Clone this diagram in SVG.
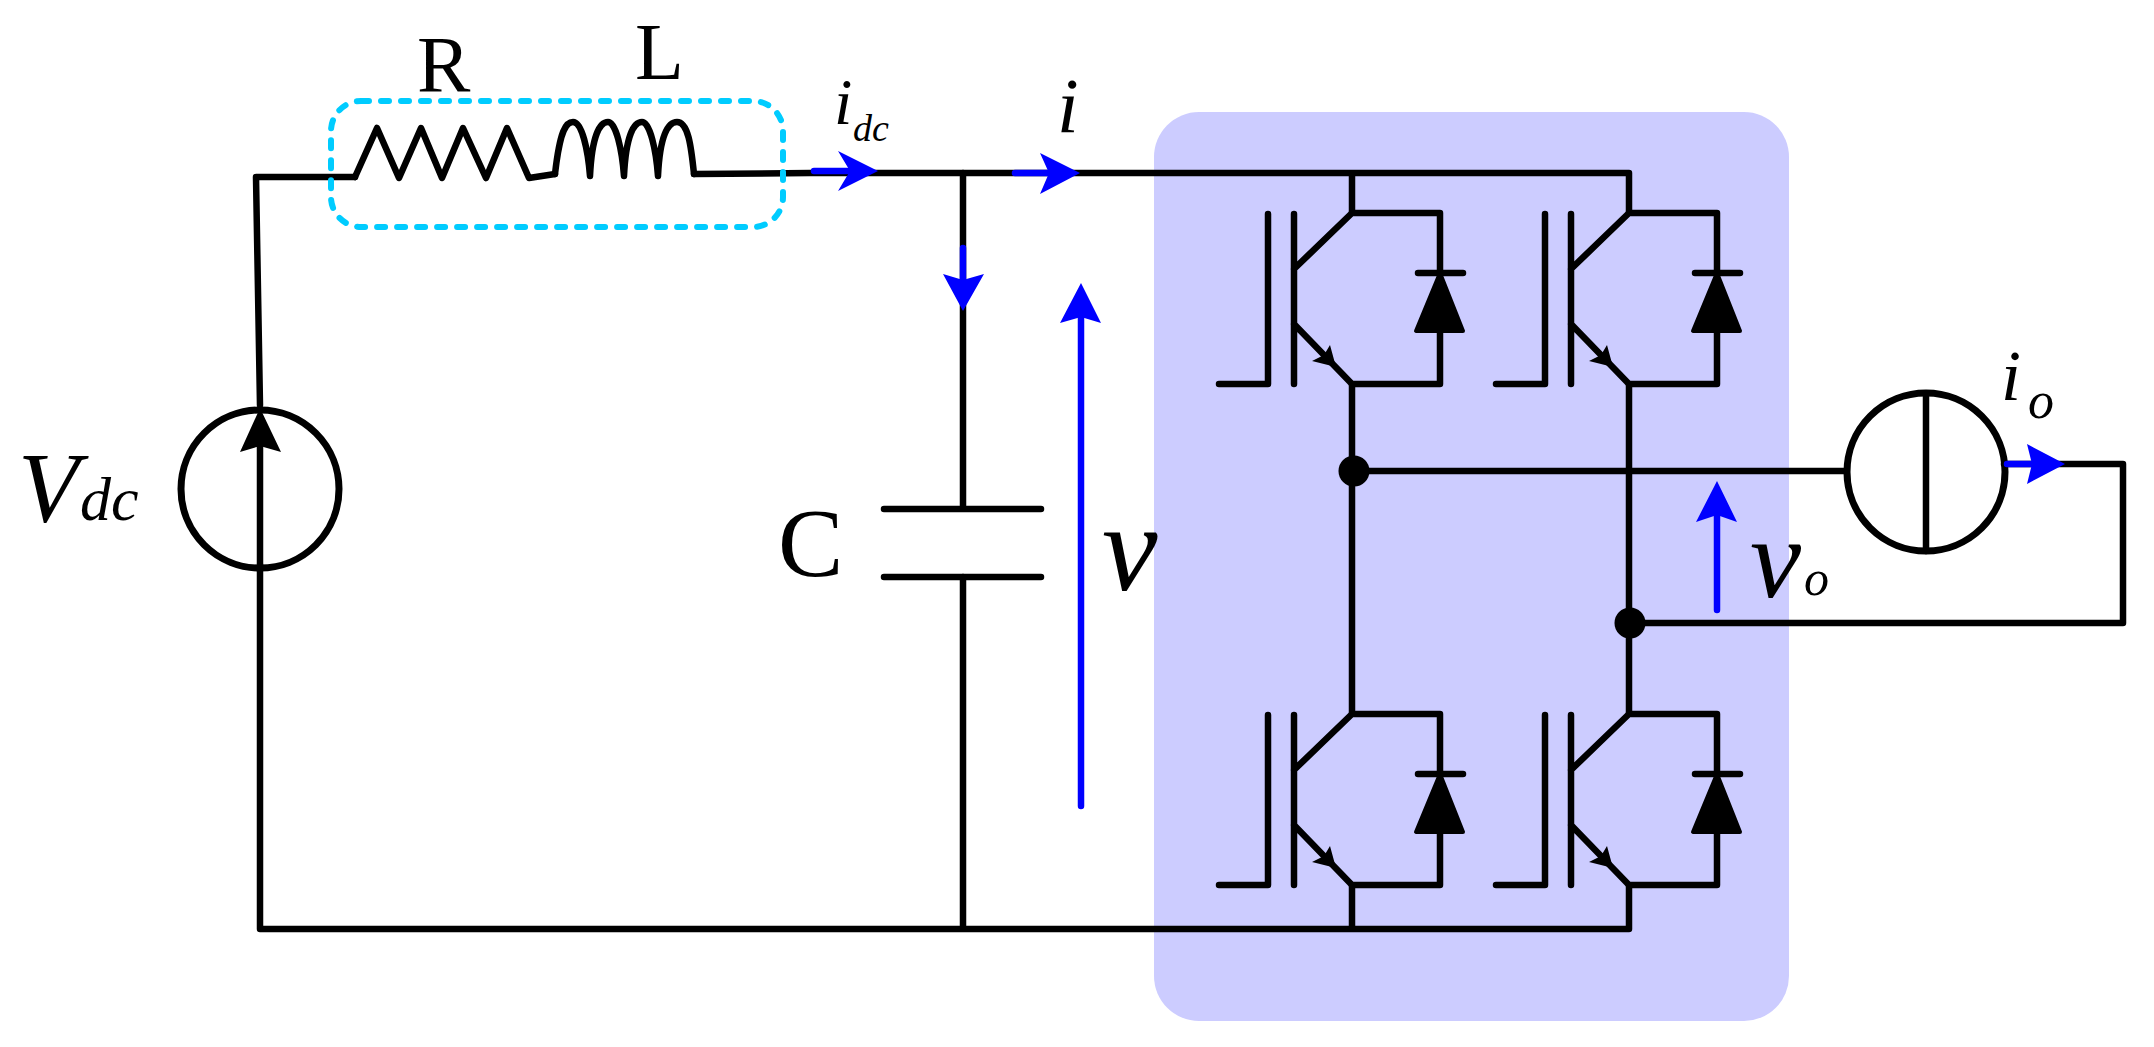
<svg xmlns="http://www.w3.org/2000/svg" width="2154" height="1047" viewBox="0 0 2154 1047">
<style>
.w{fill:none;stroke:#000;stroke-width:6.5;stroke-linecap:round;stroke-linejoin:round}
.b{fill:none;stroke:#00f;stroke-width:6.5;stroke-linecap:round}
.bh{fill:#00f}
.k{fill:#000}
.t{font-family:"Liberation Serif","Times New Roman",serif;fill:#000}
.i{font-style:italic}
</style>
<defs>
<g id="igbt">
<path class="w" d="M1219 384H1268V214M1294 214V384M1294 269L1352 213H1440V273M1294 324L1352 384H1440V331M1418 273H1463"/>
<path class="k" d="M1336 367L1330 345L1324 355L1312 361Z"/>
<path class="k" stroke="#000" stroke-width="4" stroke-linejoin="round" d="M1440 273L1416 331H1463Z"/>
</g>
</defs>
<rect width="2154" height="1047" fill="#fff"/>
<rect id="panel" x="1154" y="112" width="635" height="909" rx="45" fill="#ccf"/>
<g id="connectors">
<path class="w" d="M355 177H256L260 405M260 565V929H1629V885M1352 885V929M963 173V508M963 577V929"/>
<path class="w" d="M694 174L810 173H1629V213M1352 173V213M1352 384V714M1629 384V714"/>
<path class="w" d="M1354 471H1846M1926 394V551M2004 464H2123V623H1630"/>
</g>
<g id="R"><path class="w" d="M355 177L377 128L399 178L421 128L442 178L463 128L486 178L507 128L529 178L555 174"/></g>
<g id="L"><path class="w" d="M555 174C560 130 566 122 573 122C582 122 588 150 590 176C592 135 600 122 608 122C616 122 622 150 624 176C626 135 634 122 642 122C650 122 656 150 658 176C660 135 668 122 677 122C688 122 691 145 694 174"/></g>
<rect id="rl-box" x="331" y="101" width="452" height="126" rx="30" fill="none" stroke="#0cf" stroke-width="6" stroke-linecap="round" stroke-dasharray="8 12"/>
<g id="vdc-source">
<circle cx="260" cy="489" r="79" fill="none" stroke="#000" stroke-width="7"/>
<path class="w" d="M260 445V568"/>
<path class="k" d="M260 408L281 452L260 446L240 452Z"/>
</g>
<g id="cap"><path class="w" d="M884 509H1041M884 577H1041"/></g>
<g id="t1"><use href="#igbt"/></g>
<g id="t2"><use href="#igbt" x="277"/></g>
<g id="t3"><use href="#igbt" y="501"/></g>
<g id="t4"><use href="#igbt" x="277" y="501"/></g>
<g id="dots"><circle class="k" cx="1354" cy="471" r="15.5"/><circle class="k" cx="1630" cy="623" r="15.5"/></g>
<g id="load"><circle cx="1926" cy="472" r="79" fill="none" stroke="#000" stroke-width="7"/></g>
<g id="arrows">
<path class="b" d="M814 171H855M1015 173H1055M963 248V285M1081 806V315M1717 610V510M2007 464H2040"/>
<path class="bh" d="M878 171L838 151L850 171L838 191Z"/>
<path class="bh" d="M1080 173L1040 153L1049 173L1040 194Z"/>
<path class="bh" d="M963 311L943 274L963 280L984 274Z"/>
<path class="bh" d="M1081 283L1060 323L1081 317L1101 323Z"/>
<path class="bh" d="M1717 481L1696 522L1717 515L1737 522Z"/>
<path class="bh" d="M2065 464L2027 444L2032 464L2027 484Z"/>
</g>
<g id="labels">
<text class="t" x="417" y="92" font-size="80">R</text>
<text class="t" x="635" y="79" font-size="80">L</text>
<text class="t i" x="834" y="124" font-size="66">i</text>
<text class="t i" x="853" y="141" font-size="38">dc</text>
<text class="t i" x="1057" y="132" font-size="78">i</text>
<text class="t i" x="18" y="521" font-size="100">V</text>
<text class="t i" x="80" y="520" font-size="62">dc</text>
<text class="t" x="778" y="576" font-size="98">C</text>
<text class="t i" x="1102" y="590" font-size="125">v</text>
<text class="t i" x="1750" y="597" font-size="115">v</text>
<text class="t i" x="1804" y="595" font-size="50">o</text>
<text class="t i" x="2001" y="400" font-size="72">i</text>
<text class="t i" x="2028" y="418" font-size="52">o</text>
</g>
</svg>
